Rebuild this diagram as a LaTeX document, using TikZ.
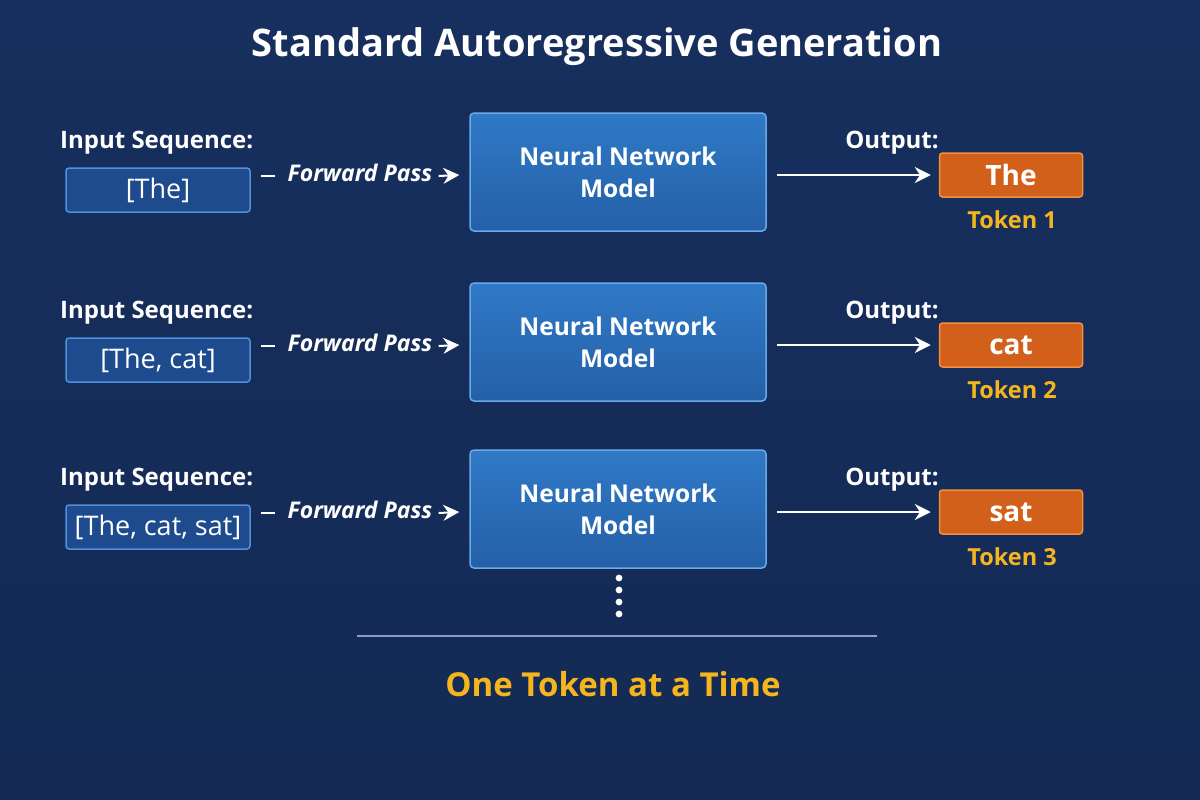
\documentclass[tikz,border=0pt]{standalone}
\usepackage{fontspec}
\setmainfont{Open Sans}
\usetikzlibrary{arrows.meta}
\definecolor{bg}{HTML}{142A55}
\definecolor{bgtop}{HTML}{172F5E}
\definecolor{infill}{HTML}{1E4A8E}
\definecolor{inborder}{HTML}{5090DC}
\definecolor{nntop}{HTML}{3079C6}
\definecolor{nnbot}{HTML}{2460A8}
\definecolor{nnborder}{HTML}{6AAAE8}
\definecolor{outfill}{HTML}{D2601A}
\definecolor{outborder}{HTML}{F09040}
\definecolor{gold}{HTML}{F5B51E}
\definecolor{rule}{HTML}{8A9EC6}
\tikzset{
  fsz/.style={font=\fontsize{#1}{#1}\selectfont},
  inbox/.style={draw=inborder, fill=infill, rounded corners=3pt, line width=1.5pt,
    minimum width=184pt, minimum height=44pt, inner sep=2pt, text=white, fsz=27},
  nnbox/.style={draw=nnborder, top color=nntop, bottom color=nnbot, rounded corners=4pt,
    line width=1.5pt, minimum width=296pt, minimum height=118pt, text=white,
    align=center, font=\fontsize{24.5}{32}\selectfont\bfseries},
  outbox/.style={draw=outborder, fill=outfill, rounded corners=3pt, line width=1.5pt,
    minimum width=143pt, minimum height=44pt, inner sep=2pt, text=white,
    font=\fontsize{28}{28}\selectfont\bfseries},
  lbl/.style={text=white, font=\fontsize{24}{24}\selectfont\bfseries, inner sep=0pt},
  fwd/.style={text=white, font=\fontsize{23}{23}\selectfont\bfseries\itshape, inner sep=0pt},
  toklbl/.style={text=gold, font=\fontsize{23.5}{23.5}\selectfont\bfseries, inner sep=0pt},
  conn/.style={draw=white, line width=2pt},
  arr/.style={draw=white, line width=2pt, -{Stealth[length=16pt,width=16pt]}},
}
\begin{document}
\begin{tikzpicture}[x=1pt,y=-1pt]
\shade[top color=bgtop, bottom color=bg] (0,0) rectangle (1200,800);
\useasboundingbox (0,0) rectangle (1200,800);

\node[text=white, font=\fontsize{38}{38}\selectfont\bfseries] (title) at (597,47) {Standard Autoregressive Generation};

\foreach \i/\dy/\inp/\tok in {1/0/{[The]}/The, 2/170/{[The, cat]}/cat, 3/337/{[The, cat, sat]}/sat}{
  \node[lbl, anchor=west] (lab\i) at (60,143+\dy) {Input Sequence:};
  \node[inbox] (in\i) at (158,190+\dy) {\inp};
  \node[fwd] (fp\i) at (360,173+\dy) {Forward Pass};
  \node[nnbox] (nn\i) at (618,172+\dy) {Neural Network\\Model};
  \node[lbl] (ol\i) at (892,143+\dy) {Output:};
  \node[outbox] (out\i) at (1011,175+\dy) {\tok};
  \node[toklbl] (tk\i) at (1012,220+\dy) {Token \i};
  \draw[conn] ([xshift=10pt]in\i.east |- fp\i.east) ++(0,3) -- ++(14,0);
  \draw[arr] ([xshift=6pt,yshift=-3pt]fp\i.east) -- ([xshift=-10pt]nn\i.west |- out\i.west);
  \draw[arr] ([xshift=10pt]nn\i.east |- out\i.west) -- ([xshift=-8pt]out\i.west);
}

\foreach \k in {0,1,2,3}{
  \fill[white] (619,578+12*\k) circle (3.4);
}
\coordinate (r1) at (357,636);
\coordinate (r2) at (877,636);
\draw[rule, line width=1.5pt] (r1) -- (r2);
\node[text=gold, font=\fontsize{33}{33}\selectfont\bfseries] (foot) at (613,684) {One Token at a Time};
\end{tikzpicture}
\end{document}
